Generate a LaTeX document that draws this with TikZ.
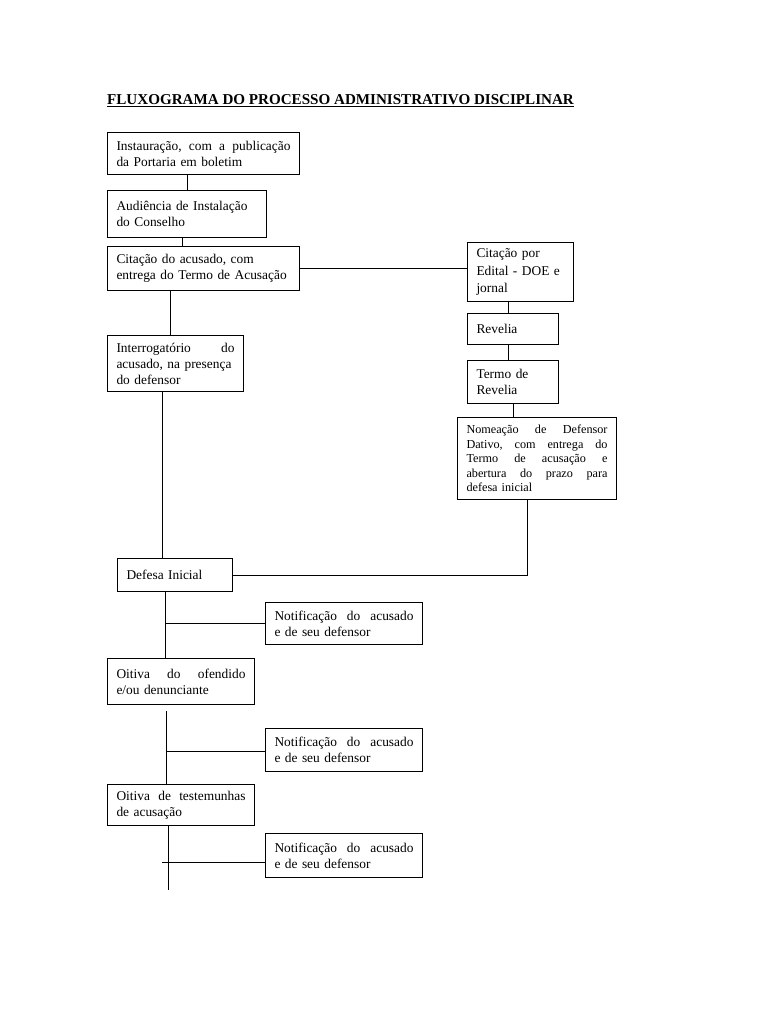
\documentclass[tikz,border=0pt]{standalone}
\usepackage{fontspec}
\setmainfont{Liberation Serif}
\usepackage{tikz}
\usetikzlibrary{positioning, calc}
\hyphenpenalty=10000
\tikzset{
	caixa/.append style={
		draw,
		anchor=north west,
		align=left,
		inner xsep=9pt,
		inner ysep=2pt,
		line width=1pt,
		font={\fontsize{13.4}{16}\selectfont}
	},
	liga/.append style={
		draw,
		line width=1pt,
	},
	titulo/.append style={
		anchor=base west,
		inner sep=0pt,
		font={\bfseries\fontsize{15.1}{16}\selectfont}
	}
}

\begin{document}
\begin{tikzpicture}[x=1pt, y=-1pt]
\useasboundingbox[fill=white] (0,0) rectangle (768,1024);

\node(tit)[titulo] at (107,105) {\underline{FLUXOGRAMA DO PROCESSO ADMINISTRATIVO DISCIPLINAR}};

% coluna principal
\node(inst)[caixa, text width=174pt, minimum height=42pt] at (107,132) {Instauração, \hfill com \hfill a \hfill publicação\\da Portaria em boletim};
\node(aud)[caixa, text width=141pt, minimum height=47pt] at (107,190) {Audiência de Instalação\\do Conselho};
\node(cit)[caixa, text width=174pt, minimum height=44pt] at (107,246) {Citação do acusado, com\\entrega do Termo de Acusação};
\node(interr)[caixa, text width=118pt, minimum height=56pt] at (107,335) {Interrogatório \hfill do\\acusado, na presença\\do defensor};
\node(defesa)[caixa, text width=97pt, minimum height=33pt] at (117,558) {Defesa Inicial};
\node(ofend)[caixa, text width=129pt, minimum height=46pt] at (107,658) {Oitiva \hfill do \hfill ofendido\\e/ou denunciante};
\node(testem)[caixa, text width=129pt, minimum height=41pt] at (107,784) {Oitiva \hfill de \hfill testemunhas\\de acusação};

% notificacoes
\node(notif1)[caixa, text width=139pt, minimum height=42pt] at (265,602) {Notificação \hfill do \hfill acusado\\e de seu defensor};
\node(notif2)[caixa, text width=139pt, minimum height=43pt] at (265,728) {Notificação \hfill do \hfill acusado\\e de seu defensor};
\node(notif3)[caixa, text width=139pt, minimum height=44pt] at (265,833) {Notificação \hfill do \hfill acusado\\e de seu defensor};

% ramo da revelia
\node(edital)[caixa, text width=88pt, minimum height=59pt, font={\fontsize{13.4}{17.5}\selectfont}] at (467,242) {Citação por\\Edital - DOE e\\jornal};
\node(rev)[caixa, text width=73pt, minimum height=31pt] at (467,313) {Revelia};
\node(termo)[caixa, text width=73pt, minimum height=43pt] at (467,360) {Termo de\\Revelia};
\node(nomea)[caixa, text width=141pt, minimum height=82pt, font={\fontsize{12.2}{14.5}\selectfont}] at (457,417) {Nomeação \hfill de \hfill Defensor\\Dativo, \hfill com \hfill entrega \hfill do\\Termo \hfill de \hfill acusação \hfill e\\abertura \hfill do \hfill prazo \hfill para\\defesa inicial};


\path[liga] ($(inst.south west)+(80,0)$) coordinate (a1) -- (a1 |- aud.north);
\path[liga] ($(aud.south west)+(75,0)$) coordinate (a2) -- (a2 |- cit.north);
\path[liga] ($(cit.south west)+(63,0)$) coordinate (a3) -- (a3 |- interr.north);
\path[liga] ($(interr.south west)+(55,0)$) coordinate (a4) -- (a4 |- defesa.north);
\path[liga] (cit.east) -- (cit.east -| edital.west);

\path[liga] ($(edital.south west)+(41,0)$) coordinate (b1) -- (b1 |- rev.north);
\path[liga] ($(rev.south west)+(41,0)$) coordinate (b2) -- (b2 |- termo.north);
\path[liga] ($(termo.south west)+(46,0)$) coordinate (b3) -- (b3 |- nomea.north);
\path[liga] ($(nomea.south west)+(70,0)$) |- (defesa.east);

\path[liga] ($(defesa.south west)+(48,0)$) coordinate (t1) -- (t1 |- ofend.north);
\path[liga] (notif1.west) -- (notif1.west -| t1);
\path[liga, shorten <=6pt] ($(ofend.south west)+(59,0)$) coordinate (t2) -- (t2 |- testem.north);
\path[liga] ($(notif2.west)+(0,1)$) coordinate (n2) -- (n2 -| t2);
\coordinate(fim) at (168,890);
\path[liga] (testem.south -| fim) -- (fim);
\path[liga] ($(notif3.west)+(0,7)$) coordinate (n3) -- ($(n3 -| fim)+(-6,0)$);

\end{tikzpicture}
\end{document}
